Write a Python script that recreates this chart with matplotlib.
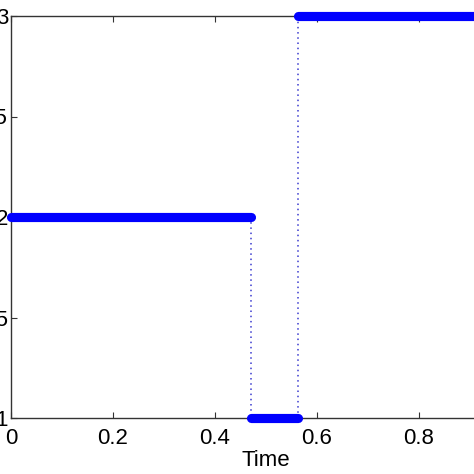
import matplotlib
matplotlib.use("Agg")
import matplotlib.pyplot as plt

# step signal: level held between consecutive switch times
switch_times = [0.0, 0.4706, 0.5627, 1.0]
levels = [2, 1, 3]

x_ticks = [0, 0.2, 0.4, 0.6, 0.8, 1]
y_ticks = [1, 1.5, 2, 2.5, 3]

plt.rcParams['font.family'] = ['Liberation Sans', 'DejaVu Sans']

fig = plt.figure(figsize=(4.74, 4.74), dpi=100)
# axes run past the right edge of the picture (cropped MATLAB figure)
ax = fig.add_axes([11 / 474, 56 / 474, 510 / 474, 402 / 474])

blue = '#0000ff'
for i, lev in enumerate(levels):
    t0, t1 = switch_times[i], switch_times[i + 1]
    ax.plot([t0, t1], [lev, lev], color=blue, lw=6.6, solid_capstyle='round',
            zorder=3, clip_on=False)
    if i > 0:
        ax.plot([t0, t0], [levels[i - 1], lev], color='#3a3ad0', lw=1.1,
                dashes=(1, 2.4), zorder=2)

ax.set_xlim(0, 1)
ax.set_ylim(1, 3)
ax.set_xticks(x_ticks)
ax.set_xticklabels(['0', '0.2', '0.4', '0.6', '0.8', '1'])
ax.set_yticks(y_ticks)
ax.set_yticklabels(['1', '1.5', '2', '2.5', '3'])
ax.tick_params(direction='in', length=4, width=0.8, top=True, right=True,
               labelsize=16, colors='#333333', labelcolor='black')
ax.tick_params(axis='y', pad=2)
ax.tick_params(axis='x', pad=7)
for s in ax.spines.values():
    s.set_color('#333333')
    s.set_linewidth(1.0)
ax.set_xlabel('Time', fontsize=16, labelpad=1)

fig.savefig('out.png', dpi=100)
